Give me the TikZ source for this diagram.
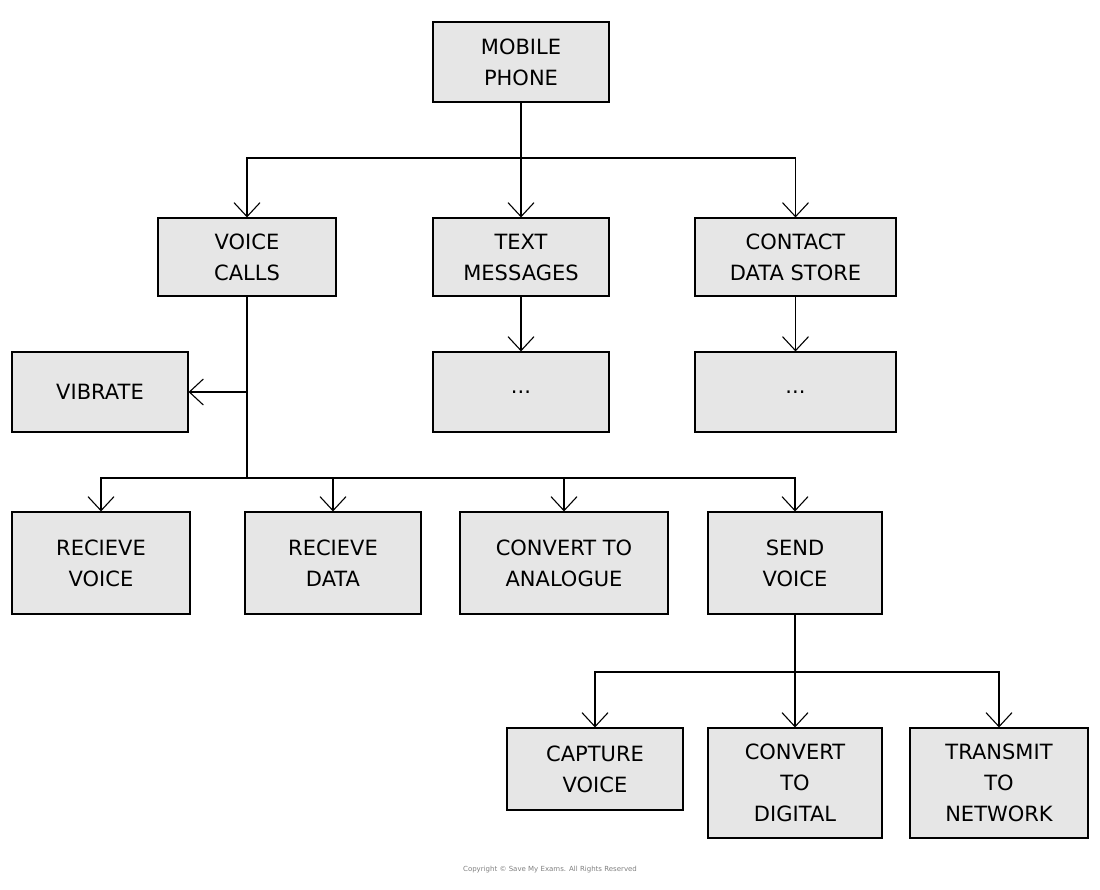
\documentclass[tikz,border=0pt]{standalone}
\usepackage{fontspec}
\setmainfont{DejaVu Sans}
\usetikzlibrary{arrows.meta}
\definecolor{boxfill}{HTML}{E6E6E6}
\begin{document}
\begin{tikzpicture}[x=1pt,y=-1pt,
  box/.style={draw=black,line width=1.1pt,fill=boxfill,align=center,inner sep=0pt,
    font=\fontsize{21}{31}\selectfont},
  ln/.style={line width=1.1pt},
  ar/.style={ln,-{Straight Barb[length=14pt,width=26pt,line width=1.1pt]}}]
\useasboundingbox (0,0) rectangle (1100,890);
\newcommand{\bx}[6]{\node[box,minimum width=#4pt,minimum height=#5pt] (#1) at (#2,#3) {#6};}
\bx{mp}{521}{62}{176}{80}{MOBILE\\PHONE}
\bx{vc}{247}{257}{178}{78}{VOICE\\CALLS}
\bx{tm}{521}{257}{176}{78}{TEXT\\MESSAGES}
\bx{cd}{795.5}{257}{201}{78}{CONTACT\\DATA STORE}
\bx{vib}{100}{392}{176}{80}{VIBRATE}
\bx{d1}{521}{392}{176}{80}{...}
\bx{d2}{795.5}{392}{201}{80}{...}
\bx{rv}{101}{563}{178}{102}{RECIEVE\\VOICE}
\bx{rd}{333}{563}{176}{102}{RECIEVE\\DATA}
\bx{ca}{564}{563}{208}{102}{CONVERT TO\\ANALOGUE}
\bx{sv}{795}{563}{174}{102}{SEND\\VOICE}
\bx{cv}{595}{769}{176}{82}{CAPTURE\\VOICE}
\bx{cdg}{795}{783}{174}{110}{CONVERT\\TO\\DIGITAL}
\bx{tn}{999}{783}{178}{110}{TRANSMIT\\TO\\NETWORK}
\coordinate (j1) at (521,158);
\coordinate (j2) at (247,478);
\coordinate (j3) at (247,392);
\coordinate (j4) at (795,672);
\draw[ln] (mp.south) -- (j1);
\draw[ar] (j1) -| (vc.north);
\draw[ar] (j1) -- (tm.north);
\draw[ar] (j1) -| (cd.north);
\draw[ar] (tm.south) -- (d1.north);
\draw[ar] (cd.south) -- (d2.north);
\draw[ln] (vc.south) -- (j2);
\draw[ar] (j3) -- (vib.east);
\draw[ar] (j2) -| (rv.north);
\draw[ar] (j2) -| (rd.north);
\draw[ar] (j2) -| (ca.north);
\draw[ar] (j2) -| (sv.north);
\draw[ln] (sv.south) -- (j4);
\draw[ar] (j4) -| (cv.north);
\draw[ar] (j4) -- (cdg.north);
\draw[ar] (j4) -| (tn.north);
\node[text=gray,font=\fontsize{7}{8}\selectfont] (cp) at (550,870) {Copyright © Save My Exams. All Rights Reserved};
\end{tikzpicture}
\end{document}
